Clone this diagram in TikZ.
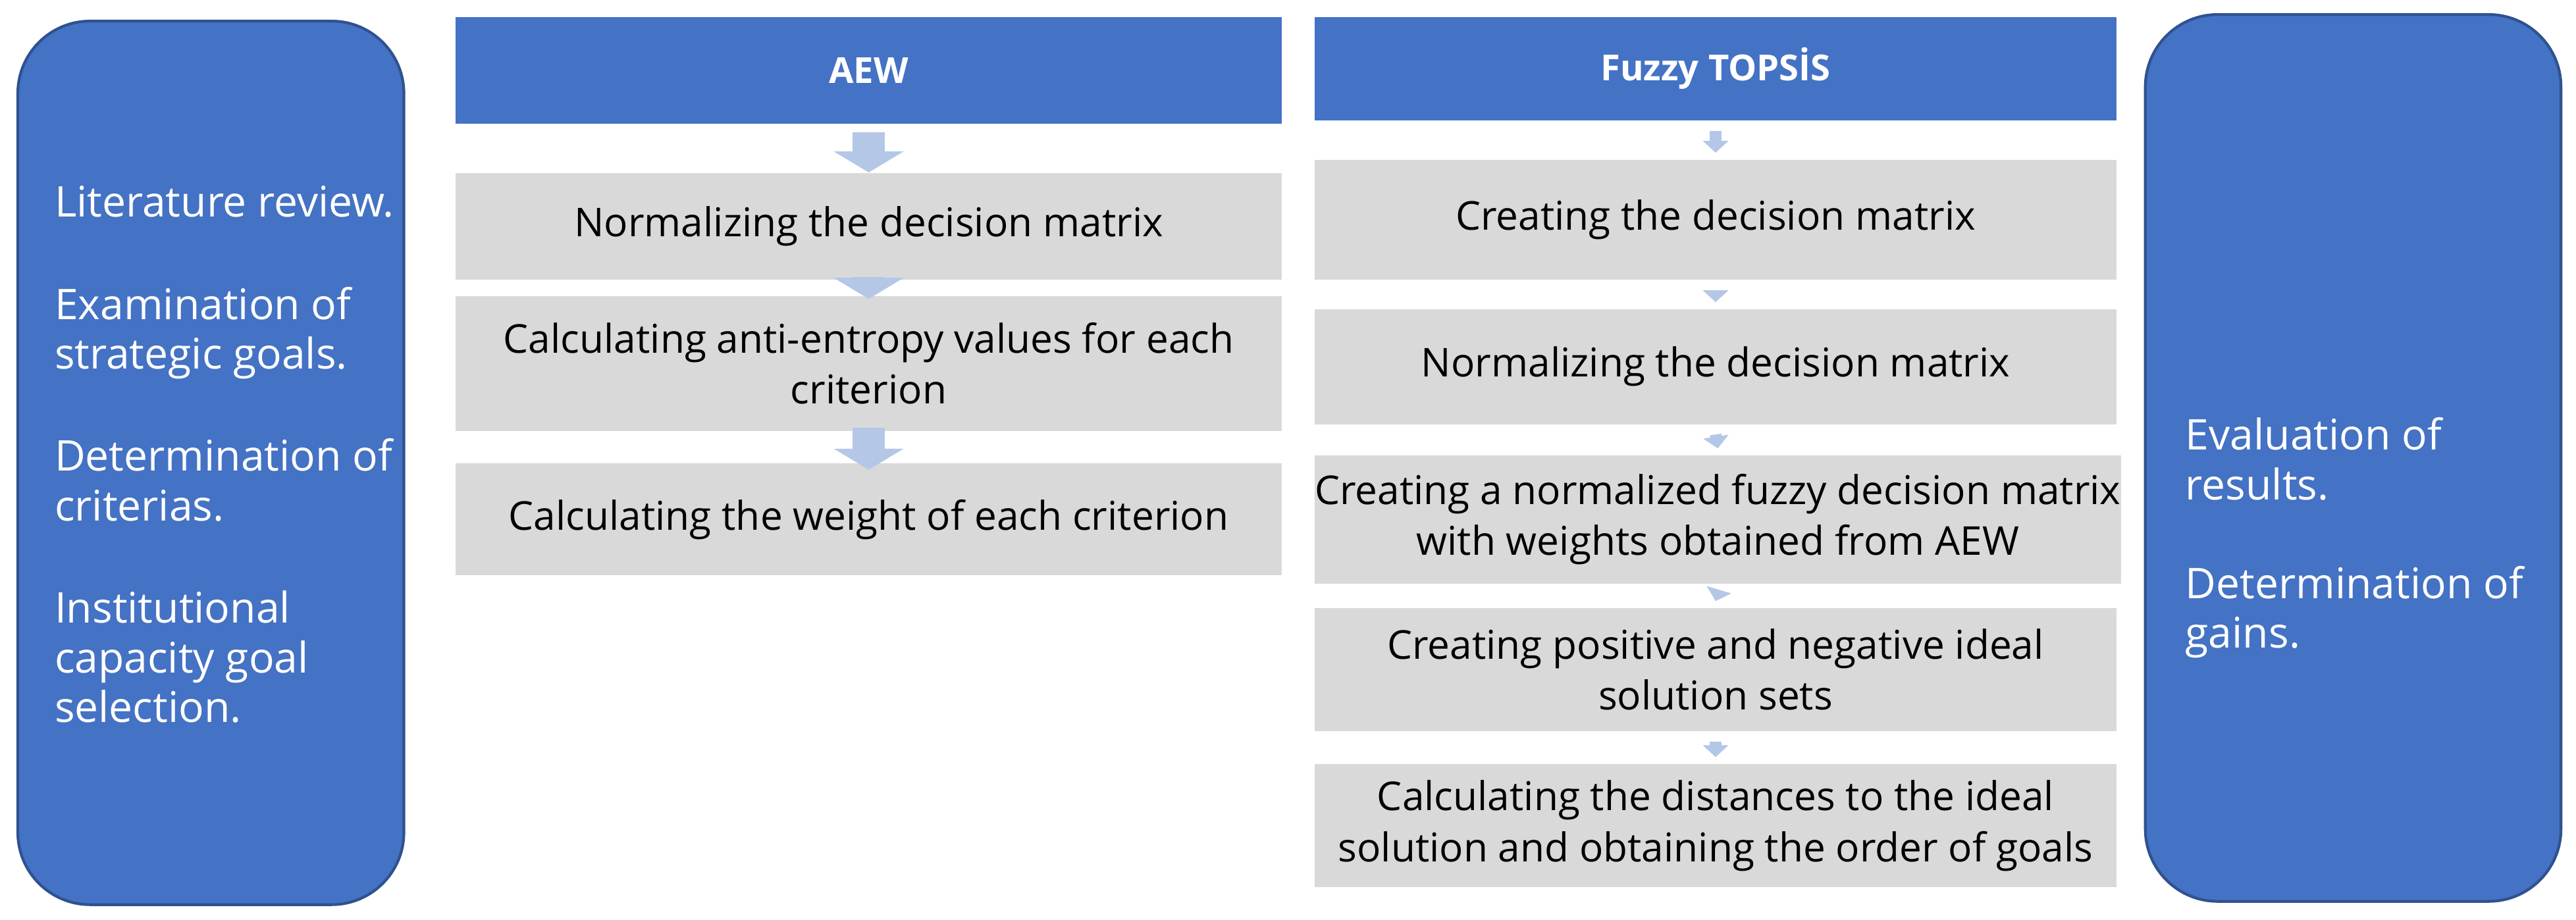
\documentclass[tikz,border=0pt]{standalone}
\usepackage{fontspec}
\setmainfont{Open Sans}
\usetikzlibrary{arrows.meta}
\definecolor{bl}{HTML}{4472C4}
\definecolor{bld}{HTML}{2F528F}
\definecolor{gr}{HTML}{D9D9D9}
\definecolor{ar}{HTML}{B4C7E7}
\tikzset{
 side/.style={fill=bl,draw=bld,line width=1.2pt,rounded corners=1.1cm,inner sep=0,anchor=north west},
 head/.style={fill=bl,draw=none,inner sep=0,text=white,font=\fontsize{15.5}{18}\selectfont\bfseries,anchor=north west},
 stepbox/.style={fill=gr,draw=none,inner sep=0,align=center,font=\fontsize{17.2}{22}\selectfont,anchor=north west},
 sidetxt/.style={text=white,align=left,anchor=north west,inner sep=0,font=\fontsize{18.3}{21.5}\selectfont},
 bigar/.style={ar,line width=14pt,-{Triangle[width=1.05cm,length=0.32cm]}},
 smar/.style={ar,line width=5pt,-{Triangle[width=0.38cm,length=0.18cm]}}
}
\begin{document}
\begin{tikzpicture}[x=0.025cm,y=-0.025cm]
\useasboundingbox (0,0) rectangle (1568,560);
\node[side,minimum width=235*0.025cm,minimum height=538*0.025cm] (L) at (10,12) {};
\node[side,minimum width=253*0.025cm,minimum height=540*0.025cm] (R) at (1305,8) {};
\node[sidetxt] (lt) at (33,113) {Literature review.\\[0.8cm] Examination of\\strategic goals.\\[0.8cm] Determination of\\criterias.\\[0.8cm] Institutional\\capacity goal\\selection.};
\node[sidetxt] (rt) at (1330,254) {Evaluation of\\results.\\[0.75cm] Determination of\\gains.};
\node[head,minimum width=503*0.025cm,minimum height=65*0.025cm] (A) at (277,10) {AEW};
\node[head,minimum width=488*0.025cm,minimum height=63*0.025cm] (F) at (800,10) {Fuzzy TOPSİS};
\node[stepbox,minimum width=503*0.025cm,minimum height=65*0.025cm] (a1) at (277,105) {Normalizing the decision matrix};
\node[stepbox,minimum width=503*0.025cm,minimum height=82*0.025cm] (a2) at (277,180) {Calculating anti-entropy values for each\\criterion};
\node[stepbox,minimum width=503*0.025cm,minimum height=68*0.025cm] (a3) at (277,282) {Calculating the weight of each criterion};
\node[stepbox,minimum width=488*0.025cm,minimum height=73*0.025cm] (f1) at (800,97) {Creating the decision matrix};
\node[stepbox,minimum width=488*0.025cm,minimum height=70*0.025cm] (f2) at (800,188) {Normalizing the decision matrix};
\node[stepbox,minimum width=488*0.025cm,minimum height=78*0.025cm] (f3) at (800,277) {Creating a normalized fuzzy decision matrix\\with weights obtained from AEW};
\node[stepbox,minimum width=488*0.025cm,minimum height=75*0.025cm] (f4) at (800,370) {Creating positive and negative ideal\\solution sets};
\node[stepbox,minimum width=488*0.025cm,minimum height=75*0.025cm] (f5) at (800,465) {Calculating the distances to the ideal\\solution and obtaining the order of goals};
\draw[bigar] ([yshift=-0.12cm]A.south) -- (a1.north);
\draw[bigar] ([yshift=0.05cm]a1.south) -- ([yshift=-0.05cm]a2.north);
\draw[bigar] ([yshift=0.05cm]a2.south) -- ([yshift=-0.1cm]a3.north);
\foreach \p/\q in {F/f1,f1/f2,f2/f3,f3/f4,f4/f5}
  \draw[smar] ([yshift=-0.15cm]\p.south) -- ([yshift=0.1cm]\q.north);
\end{tikzpicture}
\end{document}
